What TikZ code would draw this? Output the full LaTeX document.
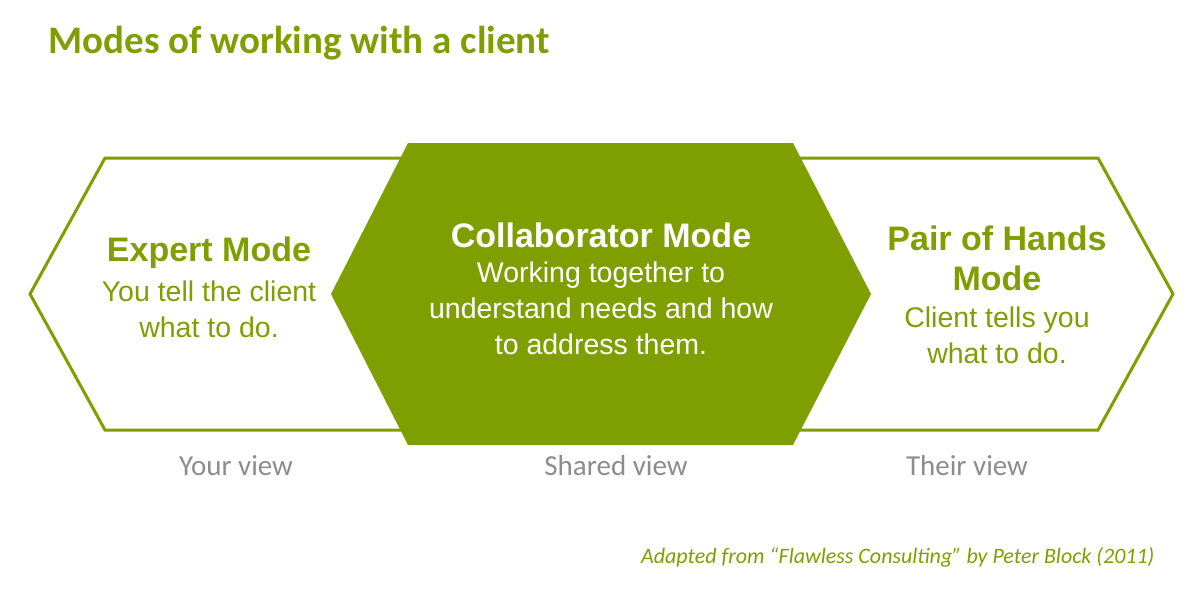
\documentclass[tikz,border=0pt]{standalone}
\usepackage{fontspec}
\setmainfont{Liberation Sans}
\newfontfamily\carl{Carlito}
\definecolor{olive}{HTML}{7F9F00}
\definecolor{gr}{HTML}{8C8C8C}
\begin{document}
\begin{tikzpicture}[x=1pt,y=-1pt,
  hex/.style={draw=olive,line width=3pt,fill=white},
  head/.style={font=\bfseries\fontsize{34}{40}\selectfont,align=center,text=olive},
  body/.style={font=\fontsize{28.5}{36}\selectfont,align=center,text=olive},
  lab/.style={font=\carl\fontsize{29}{32}\selectfont,text=gr}]
\useasboundingbox (0,0) rectangle (1200,598);
\draw[hex] (105,158) -- (500,158) -- (500,430) -- (105,430) -- (30,294) -- cycle;
\draw[hex] (1098,158) -- (700,158) -- (700,430) -- (1098,430) -- (1173,294) -- cycle;
\fill[olive] (408,143) -- (793,143) -- (871,294) -- (793,445) -- (408,445) -- (331,294) -- cycle;
\node[anchor=west,text=olive,font=\carl\bfseries\fontsize{39}{44}\selectfont] (t) at (45,43) {Modes of working with a client};
\node[head] (eh) at (209,253) {Expert Mode};
\node[body] (eb) at (209,309) {You tell the client\\what to do.};
\node[head,text=white] (ch) at (601,235) {Collaborator Mode};
\node[body,text=white] (cb) at (601,308) {Working together to\\understand needs and how\\to address them.};
\node[head] (ph) at (997,258) {Pair of Hands\\Mode};
\node[body] (pb) at (997,335) {Client tells you\\what to do.};
\node[lab] (l1) at (236,466) {Your view};
\node[lab] (l2) at (616,466) {Shared view};
\node[lab] (l3) at (967,466) {Their view};
\node[anchor=east,text=olive,font=\carl\itshape\fontsize{22}{24}\selectfont] (c) at (1158,557) {Adapted from “Flawless Consulting” by Peter Block (2011)};
\end{tikzpicture}
\end{document}
